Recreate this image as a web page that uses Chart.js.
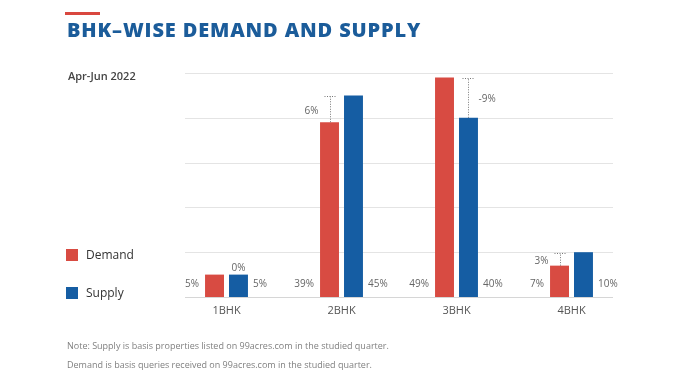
<!DOCTYPE html>
<html>
<head>
<meta charset="utf-8">
<script src="https://cdn.jsdelivr.net/npm/chart.js@4"></script>
<style>
  html, body { margin: 0; padding: 0; background: #fff; }
  #wrap { position: relative; width: 680px; height: 382px; overflow: hidden; font-family: "Open Sans", sans-serif; }
  canvas { position: absolute; left: 0; top: 0; }
  .abs { position: absolute; white-space: nowrap; }
  #bar { left: 65px; top: 12px; width: 35px; height: 3px; background: #d9473f; }
  #title { left: 67px; top: 20px; font-size: 20px; line-height: 20px; font-weight: 800; color: #1b5c9a; letter-spacing: 0.85px; }
  #period { left: 68px; top: 70px; font-size: 11px; line-height: 11px; font-weight: 600; color: #444; }
  .lg { left: 66px; font-size: 12px; line-height: 12px; color: #333; }
  .lg span { display: inline-block; width: 12px; height: 12px; vertical-align: top; margin-right: 8px; }
  .note { left: 67px; font-size: 9px; line-height: 9px; color: #808080; }
</style>
</head>
<body>
<div id="wrap">
  <canvas id="c" width="680" height="382"></canvas>
  <div id="bar" class="abs"></div>
  <div id="title" class="abs">BHK–WISE DEMAND AND SUPPLY</div>
  <div id="period" class="abs">Apr-Jun 2022</div>
  <div class="abs lg" style="top:249px"><span style="background:#d84b42"></span>Demand</div>
  <div class="abs lg" style="top:287px"><span style="background:#155da3"></span>Supply</div>
  <div class="abs note" style="top:341px">Note: Supply is basis properties listed on 99acres.com in the studied quarter.</div>
  <div class="abs note" style="top:360px">Demand is basis queries received on 99acres.com in the studied quarter.</div>
</div>
<script>
const categories = ['1BHK', '2BHK', '3BHK', '4BHK'];
const demand = [5, 39, 49, 7];
const supply = [5, 45, 40, 10];
const changeLabels = ['0%', '6%', '-9%', '3%'];
const yTicks = [0, 10, 20, 30, 40, 50];

const DEMAND_COLOR = '#d84b42';
const SUPPLY_COLOR = '#155da3';

const gridPlugin = {
  id: 'grid',
  beforeDatasetsDraw(chart) {
    const { ctx, chartArea, scales } = chart;
    ctx.save();
    ctx.lineWidth = 1;
    yTicks.forEach(v => {
      const y = Math.round(scales.y.getPixelForValue(v)) + 0.5;
      ctx.strokeStyle = v === 0 ? '#d6d6d6' : '#e4e4e4';
      ctx.beginPath();
      ctx.moveTo(chartArea.left + 16, y);
      ctx.lineTo(chartArea.right - 16, y);
      ctx.stroke();
    });
    ctx.restore();
  }
};

const labelPlugin = {
  id: 'labels',
  afterDatasetsDraw(chart) {
    const { ctx, scales } = chart;
    const dMeta = chart.getDatasetMeta(0).data;
    const sMeta = chart.getDatasetMeta(1).data;
    const y0 = scales.y.getPixelForValue(0);
    ctx.save();
    ctx.font = '10px "Open Sans"';
    ctx.fillStyle = '#666';
    ctx.textBaseline = 'middle';
    categories.forEach((c, i) => {
      const d = dMeta[i], s = sMeta[i];
      ctx.textAlign = 'right';
      ctx.fillText(demand[i] + '%', d.x - d.width / 2 - 6, y0 - 13);
      ctx.textAlign = 'left';
      ctx.fillText(supply[i] + '%', s.x + s.width / 2 + 5, y0 - 13);

      if (demand[i] === supply[i]) {
        ctx.textAlign = 'center';
        ctx.fillText(changeLabels[i], s.x, s.y - 6);
      } else {
        let lx, yLow, yHigh;
        if (supply[i] > demand[i]) { lx = d.x; yLow = d.y; yHigh = s.y; }
        else { lx = s.x; yLow = s.y; yHigh = d.y; }
        lx = Math.round(lx) + 0.5;
        ctx.save();
        ctx.strokeStyle = '#777';
        ctx.lineWidth = 1;
        ctx.setLineDash([1, 1.5]);
        ctx.beginPath();
        ctx.moveTo(lx, yLow);
        ctx.lineTo(lx, yHigh + 1);
        ctx.moveTo(lx - 6, Math.round(yHigh) + 1.5);
        ctx.lineTo(lx + 6, Math.round(yHigh) + 1.5);
        ctx.stroke();
        ctx.restore();
        const ym = (yLow + yHigh) / 2 + 2;
        if (supply[i] > demand[i]) {
          ctx.textAlign = 'right';
          ctx.fillText(changeLabels[i], lx - 12, ym);
        } else {
          ctx.textAlign = 'left';
          ctx.fillText(changeLabels[i], lx + 10, ym);
        }
      }
    });
    ctx.restore();
  }
};

new Chart(document.getElementById('c'), {
  type: 'bar',
  data: {
    labels: categories,
    datasets: [
      { label: 'Demand', data: demand, backgroundColor: DEMAND_COLOR },
      { label: 'Supply', data: supply, backgroundColor: SUPPLY_COLOR }
    ]
  },
  options: {
    responsive: false,
    animation: false,
    devicePixelRatio: 1,
    layout: { padding: { left: 169, right: 51, top: 73, bottom: 55 } },
    datasets: { bar: { categoryPercentage: 0.417, barPercentage: 0.79 } },
    plugins: { legend: { display: false }, tooltip: { enabled: false }, title: { display: false } },
    scales: {
      x: {
        grid: { display: false, drawTicks: false },
        border: { display: false },
        ticks: { color: '#555', font: { family: 'Open Sans', size: 11 }, padding: 7 },
        afterFit(scale) { scale.height = 30; }
      },
      y: {
        display: false,
        min: 0,
        max: 50,
        ticks: { stepSize: 10 }
      }
    }
  },
  plugins: [gridPlugin, labelPlugin]
});
</script>
</body>
</html>
